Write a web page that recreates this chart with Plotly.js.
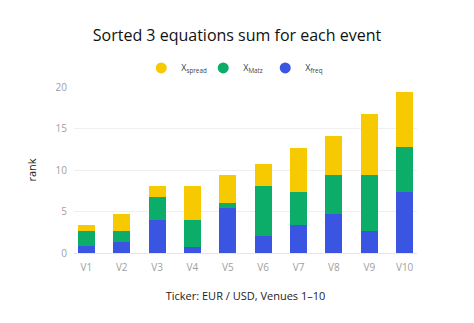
<!DOCTYPE html>
<html>
<head>
<meta charset="utf-8">
<script src="https://cdn.plot.ly/plotly-3.0.1.min.js"></script>
<style>html,body{margin:0;padding:0;background:#fff;}#chart{width:474px;height:323px;}</style>
</head>
<body>
<div id="chart"></div>
<script>
const categories = ["V1","V2","V3","V4","V5","V6","V7","V8","V9","V10"];
const xFreq   = [0.80, 1.37, 3.98, 0.68, 5.42, 2.05, 3.41, 4.74, 2.69, 7.35];
const xMatz   = [1.90, 1.33, 2.72, 3.30, 0.60, 5.98, 3.90, 4.66, 6.71, 5.46];
const xSpread = [0.70, 1.96, 1.33, 4.05, 3.38, 2.73, 5.38, 4.74, 7.39, 6.63];
const seriesNames = ["X<sub>spread</sub>", "X<sub>Matz</sub>", "X<sub>freq</sub>"];
const yTicks = [0, 5, 10, 15, 20];

const cYellow = "#f6c900", cGreen = "#0bad69", cBlue = "#3b55e3";

const bars = [
  {name: seriesNames[2], y: xFreq, color: cBlue},
  {name: seriesNames[1], y: xMatz, color: cGreen},
  {name: seriesNames[0], y: xSpread, color: cYellow}
].map(s => ({type: "bar", x: categories, y: s.y, name: s.name, marker: {color: s.color}, showlegend: false, hoverinfo: "x+y"}));

const legendItems = [
  {name: seriesNames[0], color: cYellow},
  {name: seriesNames[1], color: cGreen},
  {name: seriesNames[2], color: cBlue}
].map(s => ({type: "scatter", mode: "markers", x: [null], y: [null], name: s.name, marker: {color: s.color, size: 11, symbol: "circle"}, showlegend: true}));

const layout = {
  width: 474, height: 323,
  paper_bgcolor: "#fff", plot_bgcolor: "#fff",
  font: {family: "Open Sans, Noto Sans, sans-serif", color: "#222"},
  margin: {l: 74, r: 57, t: 87, b: 70},
  barmode: "stack",
  bargap: 0.52,
  title: {text: "Sorted 3 equations sum for each event", font: {size: 16, color: "#111"}, x: 0.5, xanchor: "center", y: 1 - 35/323, yanchor: "middle"},
  legend: {orientation: "h", x: 0.196, xanchor: "left", y: 1.115, yanchor: "middle", font: {size: 9, color: "#444"}, traceorder: "normal", entrywidth: 17, entrywidthmode: "pixels"},
  xaxis: {
    type: "category", range: [-0.35, 9.35], showgrid: false, showline: false, zeroline: false,
    tickfont: {size: 10, color: "#a0a0a0"}, ticks: "", ticklabelstandoff: 7,
    title: {text: "Ticker: EUR / USD, Venues 1–10", font: {size: 11, color: "#222"}, standoff: 19}
  },
  yaxis: {
    range: [0, 20], tickvals: yTicks, ticktext: yTicks.map(String),
    showgrid: true, gridcolor: "#efefef", zeroline: true, zerolinecolor: "#e6e6e6", showline: false,
    tickfont: {size: 10, color: "#a0a0a0"}, ticks: "", ticklabelstandoff: 6,
    title: {text: "rank", font: {size: 11, color: "#222"}, standoff: 16}
  }
};

Plotly.newPlot("chart", bars.concat(legendItems), layout, {displayModeBar: false, staticPlot: true});
</script>
</body>
</html>
